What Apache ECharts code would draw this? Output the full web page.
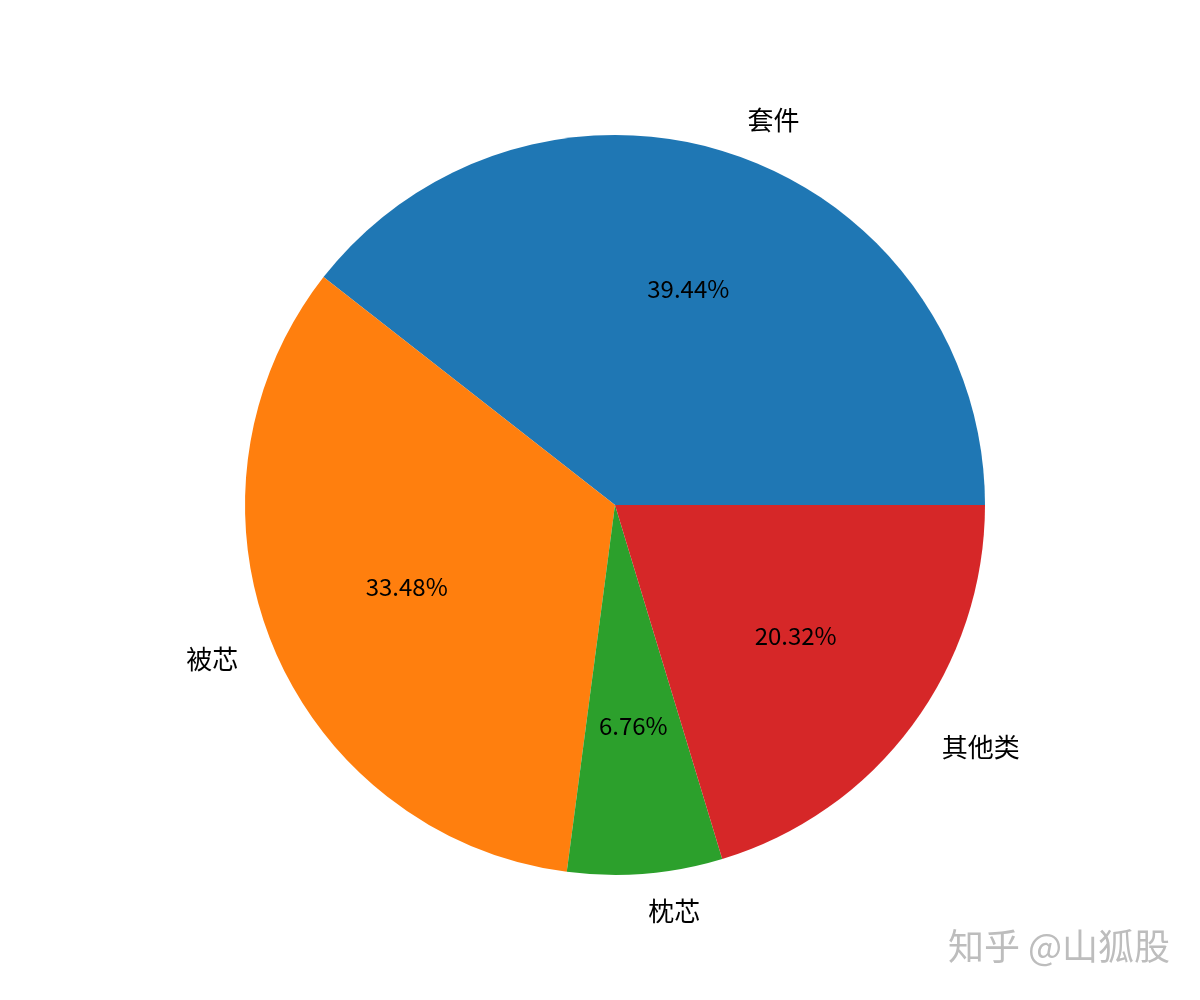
<!DOCTYPE html>
<html>
<head>
<meta charset="utf-8">
<script src="https://cdn.jsdelivr.net/npm/echarts@6/dist/echarts.min.js"></script>
<style>
html,body{margin:0;padding:0;background:#fff;}
#main{width:1200px;height:1000px;}
</style>
</head>
<body>
<div id="main"></div>
<script>
const categories = ['套件', '被芯', '枕芯', '其他类'];
const values = [39.44, 33.48, 6.76, 20.32];
const colors = ['#1f77b4', '#ff7f0e', '#2ca02c', '#d62728'];

const FONT = '"Noto Sans CJK SC", "Noto Sans", sans-serif';
const R = 370;
const data = categories.map((c, i) => ({ name: c, value: values[i], itemStyle: { color: colors[i] } }));
const overlay = categories.map((c, i) => ({ name: c, value: values[i] }));

const chart = echarts.init(document.getElementById('main'));
chart.setOption({
  backgroundColor: '#fff',
  animation: false,
  series: [
    {
      type: 'pie',
      center: [615, 505],
      radius: [0, R],
      startAngle: 0,
      clockwise: false,
      avoidLabelOverlap: false,
      silent: true,
      data: data,
      itemStyle: { borderWidth: 0 },
      label: {
        show: true,
        position: 'outside',
        formatter: '{b}',
        fontFamily: FONT,
        fontSize: 26,
        color: '#000',
        distanceToLabelLine: 0
      },
      labelLine: { show: false, length: 0.1 * R, length2: 0 }
    },
    {
      type: 'pie',
      center: [615, 505],
      radius: [0.2 * R, R],
      startAngle: 0,
      clockwise: false,
      avoidLabelOverlap: false,
      silent: true,
      data: overlay,
      itemStyle: { color: 'rgba(0,0,0,0)', borderWidth: 0 },
      label: {
        show: true,
        position: 'inside',
        formatter: p => p.value.toFixed(2) + '%',
        fontFamily: FONT,
        fontSize: 24,
        color: '#000',
        offset: [0, -3]
      },
      labelLine: { show: false }
    }
  ],
  graphic: [
    {
      type: 'text',
      right: 30,
      top: 928,
      style: {
        text: '知乎 @山狐股',
        font: '36px ' + FONT,
        fill: '#bdbdbd',
        textShadowColor: 'rgba(255,255,255,0.9)',
        textShadowBlur: 2,
        textShadowOffsetX: 1,
        textShadowOffsetY: 1
      }
    }
  ]
});
</script>
</body>
</html>
